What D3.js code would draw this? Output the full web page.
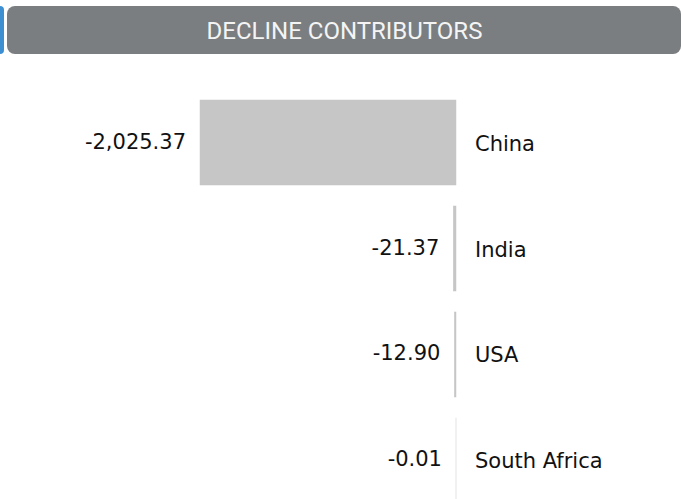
<!DOCTYPE html>
<html>
<head>
<meta charset="utf-8">
<script src="https://cdn.jsdelivr.net/npm/d3@7/dist/d3.min.js"></script>
<style>
  html, body { margin: 0; padding: 0; background: #fff; overflow: hidden; }
  svg { display: block; }
</style>
</head>
<body>
<svg id="chart" width="681" height="499"></svg>
<script>
// Countries ranked by how much they pulled the total down
const countries = ["China", "India", "USA", "South Africa"];
const declines = [-2025.37, -21.37, -12.90, -0.01];
const title = "DECLINE CONTRIBUTORS";

const svg = d3.select("#chart");

// Header strip
svg.append("rect")
  .attr("x", -6).attr("y", 6).attr("width", 10).attr("height", 48)
  .attr("rx", 4).attr("fill", "#3d8fd1");
svg.append("rect")
  .attr("x", 7).attr("y", 6).attr("width", 674).attr("height", 48)
  .attr("rx", 8).attr("fill", "#7b7e80");
svg.append("text")
  .attr("x", 344.5).attr("y", 31)
  .attr("text-anchor", "middle").attr("dominant-baseline", "central")
  .attr("font-family", "Roboto, sans-serif").attr("font-size", 24)
  .attr("fill", "#f4f4f4")
  .text(title);

const data = countries.map((c, i) => ({ country: c, value: declines[i] }));

// Bars grow leftward from the baseline
const x = d3.scaleLinear()
  .domain([0, d3.max(data, d => Math.abs(d.value))])
  .range([456, 200]);

const y = d3.scaleBand()
  .domain(countries)
  .range([100, 503])
  .paddingInner(0.198)
  .paddingOuter(0);

// Plain hyphen-minus for negative values
const fmt = d3.formatLocale({ decimal: ".", thousands: ",", grouping: [3], currency: ["", ""], minus: "-" }).format(",.2f");

const rows = svg.append("g").selectAll("g")
  .data(data).join("g");

rows.append("rect")
  .attr("x", d => x(Math.abs(d.value)))
  .attr("y", d => y(d.country))
  .attr("width", d => x(0) - x(Math.abs(d.value)))
  .attr("height", y.bandwidth())
  .attr("fill", "#c6c6c6")
  .attr("stroke", "#c6c6c6")
  .attr("stroke-width", 0.5);

rows.append("text")
  .attr("x", d => x(Math.abs(d.value)) - 14)
  .attr("y", d => y(d.country) + y.bandwidth() / 2 - 1)
  .attr("text-anchor", "end").attr("dominant-baseline", "central")
  .attr("font-family", "'DejaVu Sans', sans-serif").attr("font-size", 21)
  .attr("fill", "#111")
  .text(d => fmt(d.value));

rows.append("text")
  .attr("x", 475)
  .attr("y", d => y(d.country) + y.bandwidth() / 2 + 1)
  .attr("text-anchor", "start").attr("dominant-baseline", "central")
  .attr("font-family", "'DejaVu Sans', sans-serif").attr("font-size", 21)
  .attr("fill", "#111")
  .text(d => d.country);
</script>
</body>
</html>
